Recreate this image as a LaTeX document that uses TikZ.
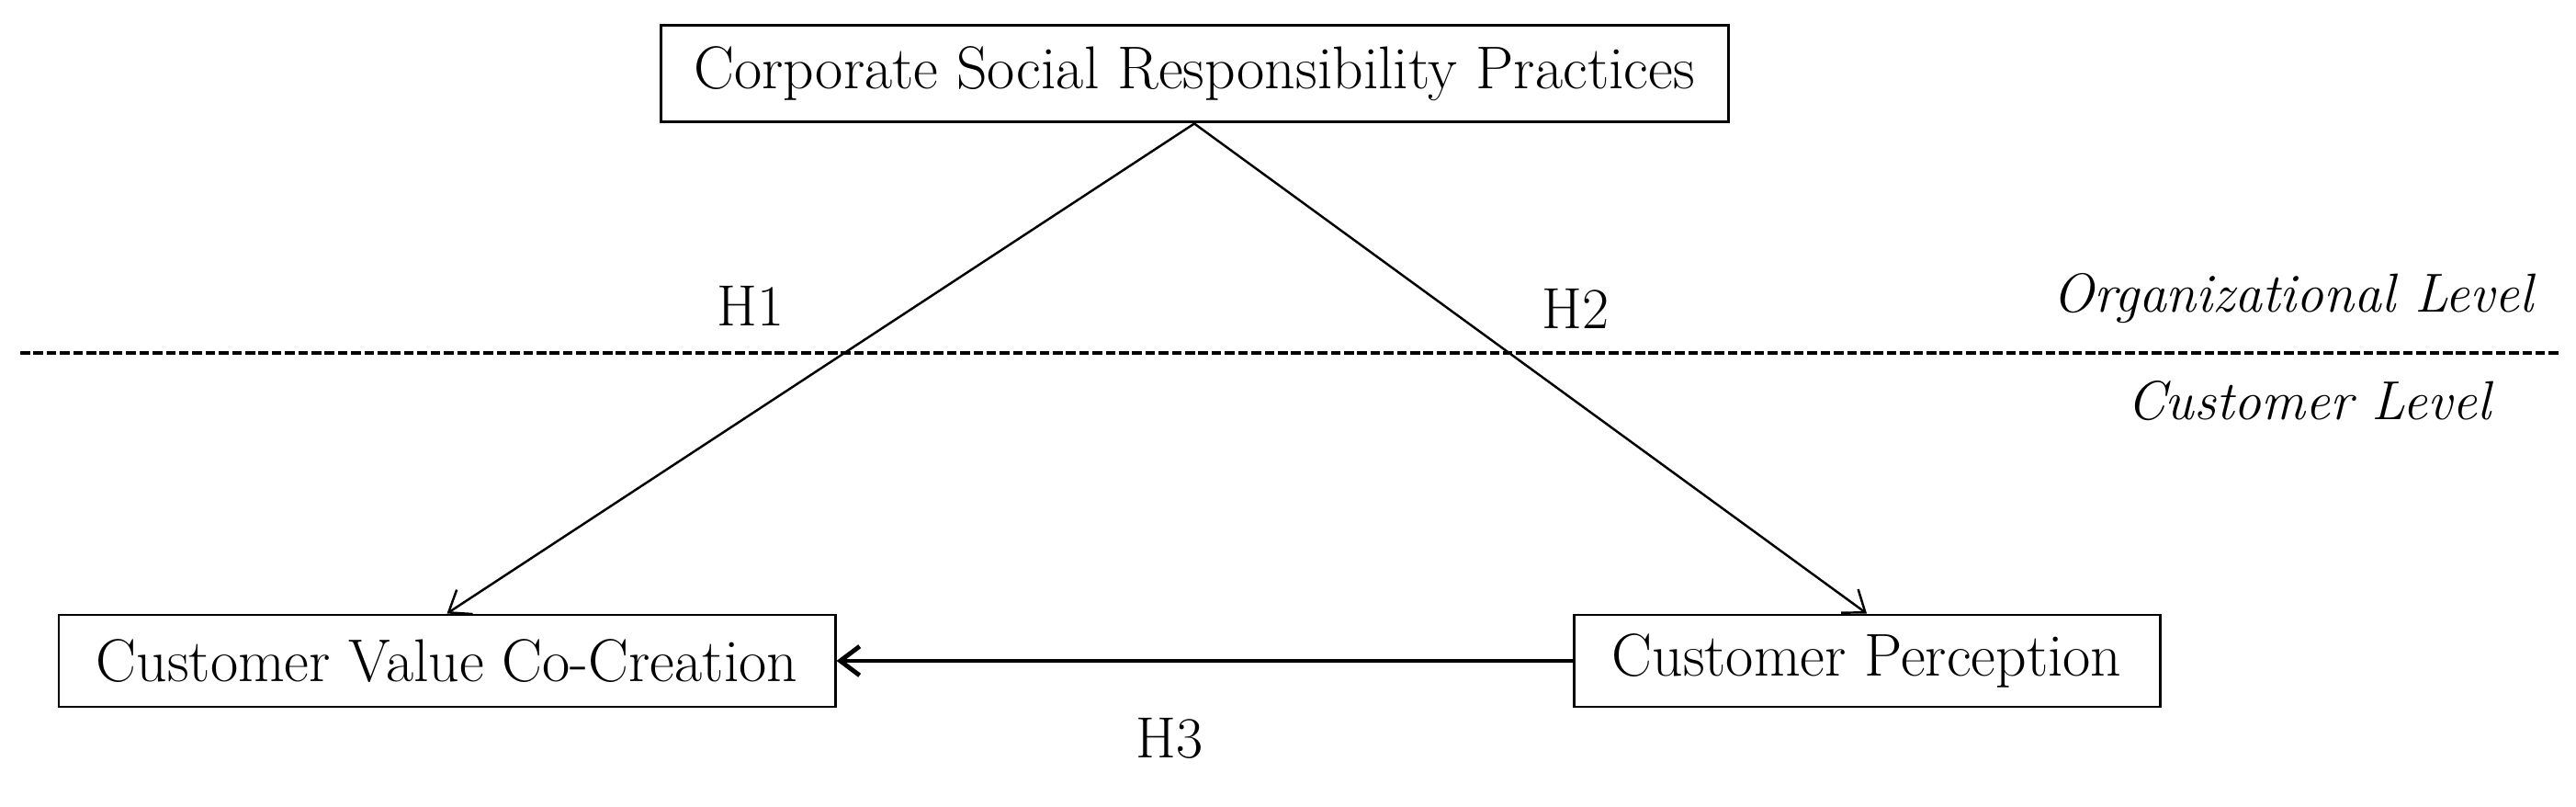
\documentclass[tikz,border=0pt]{standalone}
\usetikzlibrary{arrows.meta}

\tikzset{
    box/.style={draw, line width=0.85pt, minimum height=1cm, inner sep=0pt, font=\fontsize{18.7}{22}\selectfont},
    lbl/.style={anchor=base, inner sep=0pt, font=\fontsize{18}{21}\selectfont},
    lvl/.style={anchor=base, inner sep=0pt, font=\fontsize{17}{20}\selectfont\itshape}
}

\begin{document}
\begin{tikzpicture}[>={Straight Barb[length=6pt,width=9pt]}]
                \useasboundingbox (0,0) rectangle (28.04,8.78);

                \node[box, minimum width=11.62cm, minimum height=1.05cm] (csr) at (13.00, 7.975) { Corporate Social Responsibility Practices };
                \node[box, minimum width=8.45cm] (cvc) at (4.865, 1.59) { Customer Value Co-Creation };
                \node[box, minimum width=6.38cm] (cp) at (20.32, 1.59) { Customer Perception };

                \coordinate (L) at (0.22, 4.94);
                \coordinate (R) at (27.87, 4.94);
                \draw[line width=0.9pt, dash pattern=on 3pt off 1.1pt] (L) -- (R);

                \node[lvl] (org) at (24.96, 5.38) { Organizational Level };
                \node[lvl] (cust) at (25.13, 4.21) { Customer Level };

                \draw[line width=0.7pt,->] (csr.south) -- (cvc.north);
                \draw[line width=0.7pt,->] (csr.south) -- (cp.north);
                \draw[line width=1.4pt,->] (cp.west) -- (cvc.east);

                \node[lbl] (h1) at (8.17, 5.23) { H1 };
                \node[lbl] (h2) at (17.15, 5.20) { H2 };
                \node[lbl] (h3) at (12.73, 0.53) { H3 };
            \end{tikzpicture}
\end{document}
